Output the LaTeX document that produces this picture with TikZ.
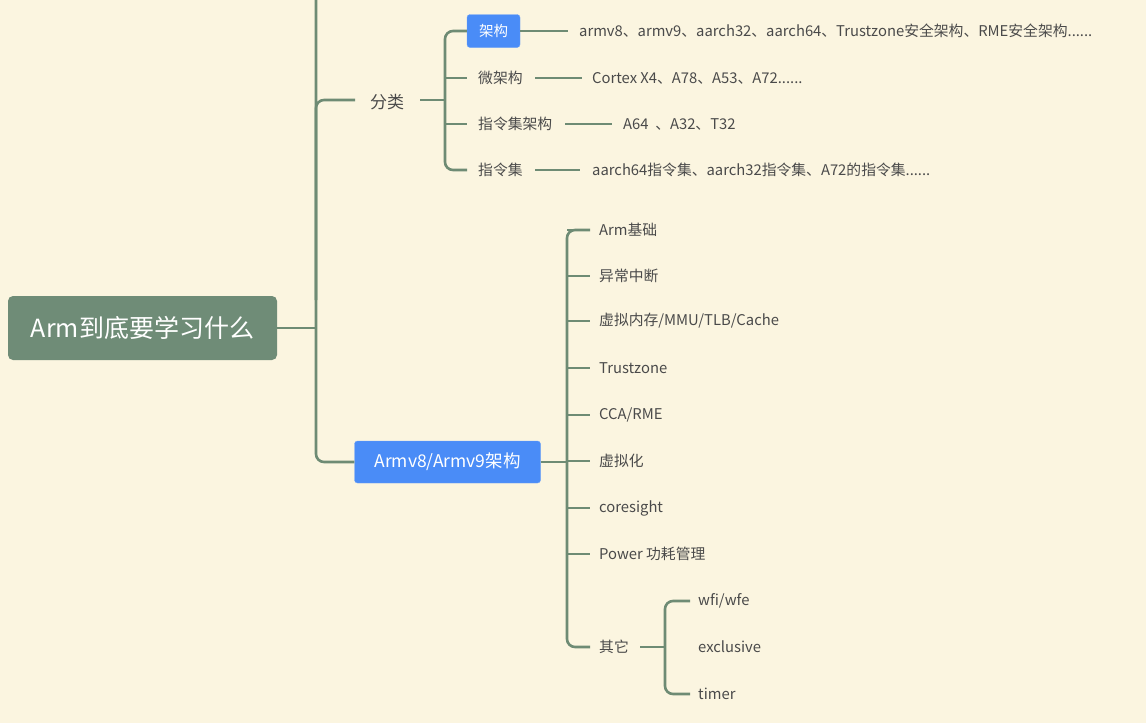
\documentclass[tikz,border=0pt]{standalone}
\usepackage{fontspec}
\setmainfont{Noto Sans CJK SC}
\definecolor{bg}{HTML}{FBF5E0}
\definecolor{ln}{HTML}{6E8B74}
\definecolor{rootc}{HTML}{6F8C77}
\definecolor{blu}{HTML}{4A8CF7}
\definecolor{tx}{HTML}{4A4A4A}
\begin{document}
\begin{tikzpicture}[x=1pt,y=-1pt,
  conn/.style={draw=ln,line width=2.6pt,rounded corners=8pt},
  leaf/.style={anchor=west,text=tx,font=\fontsize{14.8}{16}\selectfont,inner sep=0pt},
  bluebox/.style={fill=blu,draw=blu!80!white,rounded corners=3pt,text=white,inner sep=0pt}]
\fill[bg] (0,0) rectangle (1146,723);
\useasboundingbox (0,0) rectangle (1146,723);
% root
\node[fill=rootc,rounded corners=5pt,text=white,minimum width=269pt,minimum height=64pt,inner sep=0pt,font=\fontsize{25}{28}\selectfont] (root) at (142.5,328) {Arm到底要学习什么};
\coordinate (t0) at (316,-20);
\node[text=tx,font=\fontsize{17}{19}\selectfont,inner sep=0pt] (fl) at (387,102) {分类};
\node[bluebox,minimum width=186pt,minimum height=42pt,font=\fontsize{17.5}{19}\selectfont] (av) at (447.5,462) {Armv8/Armv9架构};
\draw[conn] (root.east) -- (316,328);
\draw[conn] (t0) -- (316,462) -- (av.west);
\draw[conn] (316,300) -- (316,100) -- (355,100);
% 分类 children
\node[bluebox,minimum width=53pt,minimum height=33pt,font=\fontsize{14.5}{15}\selectfont] (jg) at (493.5,31) {架构};
\node[leaf] (wjg) at (478,78) {微架构};
\node[leaf] (zljg) at (478,124) {指令集架构};
\node[leaf] (zlj) at (478,170) {指令集};
\draw[conn] (420,100) -- (445,100);
\draw[conn] (jg.west) -- (445,31) -- (445,170) -- (467,170);
\draw[conn] (445,78) -- (467,78);
\draw[conn] (445,124) -- (467,124);
\node[leaf] (d1) at (579,31) {armv8、armv9、aarch32、aarch64、Trustzone安全架构、RME安全架构......};
\node[leaf] (d2) at (592,78) {Cortex X4、A78、A53、A72......};
\node[leaf] (d3) at (623,124) {A64\ \ 、A32、T32};
\node[leaf] (d4) at (592,170) {aarch64指令集、aarch32指令集、A72的指令集......};
\draw[conn] (jg.east) -- (568,31);
\draw[conn] (535,78) -- (582,78);
\draw[conn] (565,124) -- (612,124);
\draw[conn] (535,170) -- (580,170);
% Armv8 children
\draw[conn] (av.east) -- (567,462);
\draw[conn] (590,230) -- (567,230) -- (567,647) -- (590,647);
\foreach \y/\t/\n in {230/{Arm基础}/a1,276/{异常中断}/a2,321/{虚拟内存/MMU/TLB/Cache}/a3,368/{Trustzone}/a4,415/{CCA/RME}/a5,461/{虚拟化}/a6,508/{coresight}/a7,554/{Power 功耗管理}/a8}{
  \node[leaf] (\n) at (599,\y) {\t};
  \draw[conn] (567,\y) -- (590,\y);
}
\node[leaf] (qt) at (599,647) {其它};
\draw[conn] (640,647) -- (665,647);
\draw[conn] (690,601) -- (665,601) -- (665,694) -- (690,694);
\node[leaf] (o1) at (698,601) {wfi/wfe};
\node[leaf] (o2) at (698,647) {exclusive};
\node[leaf] (o3) at (698,694) {timer};
\end{tikzpicture}
\end{document}
